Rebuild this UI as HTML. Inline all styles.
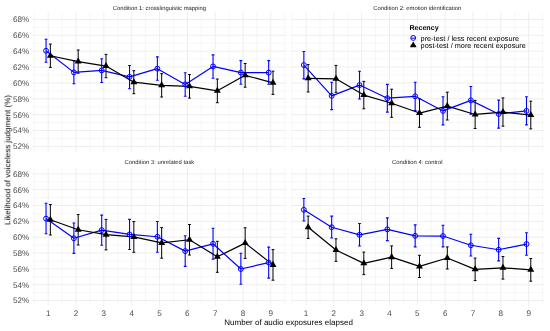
<!DOCTYPE html>
<html><head><meta charset="utf-8"><style>
html,body{margin:0;padding:0;background:#fff;width:550px;height:331px;overflow:hidden;}
svg{display:block;font-family:"Liberation Sans",sans-serif;}
text{will-change:transform;text-rendering:geometricPrecision;}
</style></head><body>
<svg width="550" height="331" viewBox="0 0 550 331">
<rect width="550" height="331" fill="#fff"/>
<g stroke="#EEEEEE" fill="none"><line x1="32.4" x2="286.4" y1="146.44" y2="146.44" stroke-width="1.0"/><line x1="32.4" x2="286.4" y1="138.5" y2="138.5" stroke-width="0.5"/><line x1="32.4" x2="286.4" y1="130.56" y2="130.56" stroke-width="1.0"/><line x1="32.4" x2="286.4" y1="122.62" y2="122.62" stroke-width="0.5"/><line x1="32.4" x2="286.4" y1="114.68" y2="114.68" stroke-width="1.0"/><line x1="32.4" x2="286.4" y1="106.74" y2="106.74" stroke-width="0.5"/><line x1="32.4" x2="286.4" y1="98.8" y2="98.8" stroke-width="1.0"/><line x1="32.4" x2="286.4" y1="90.86" y2="90.86" stroke-width="0.5"/><line x1="32.4" x2="286.4" y1="82.92" y2="82.92" stroke-width="1.0"/><line x1="32.4" x2="286.4" y1="74.98" y2="74.98" stroke-width="0.5"/><line x1="32.4" x2="286.4" y1="67.04" y2="67.04" stroke-width="1.0"/><line x1="32.4" x2="286.4" y1="59.1" y2="59.1" stroke-width="0.5"/><line x1="32.4" x2="286.4" y1="51.16" y2="51.16" stroke-width="1.0"/><line x1="32.4" x2="286.4" y1="43.22" y2="43.22" stroke-width="0.5"/><line x1="32.4" x2="286.4" y1="35.28" y2="35.28" stroke-width="1.0"/><line x1="32.4" x2="286.4" y1="27.34" y2="27.34" stroke-width="0.5"/><line x1="32.4" x2="286.4" y1="19.4" y2="19.4" stroke-width="1.0"/><line x1="34.29" x2="34.29" y1="12.1" y2="151.8" stroke-width="0.5"/><line x1="48.2" x2="48.2" y1="12.1" y2="151.8" stroke-width="1.0"/><line x1="62.12" x2="62.12" y1="12.1" y2="151.8" stroke-width="0.5"/><line x1="76.03" x2="76.03" y1="12.1" y2="151.8" stroke-width="1.0"/><line x1="89.94" x2="89.94" y1="12.1" y2="151.8" stroke-width="0.5"/><line x1="103.86" x2="103.86" y1="12.1" y2="151.8" stroke-width="1.0"/><line x1="117.77" x2="117.77" y1="12.1" y2="151.8" stroke-width="0.5"/><line x1="131.69" x2="131.69" y1="12.1" y2="151.8" stroke-width="1.0"/><line x1="145.61" x2="145.61" y1="12.1" y2="151.8" stroke-width="0.5"/><line x1="159.52" x2="159.52" y1="12.1" y2="151.8" stroke-width="1.0"/><line x1="173.44" x2="173.44" y1="12.1" y2="151.8" stroke-width="0.5"/><line x1="187.35" x2="187.35" y1="12.1" y2="151.8" stroke-width="1.0"/><line x1="201.26" x2="201.26" y1="12.1" y2="151.8" stroke-width="0.5"/><line x1="215.18" x2="215.18" y1="12.1" y2="151.8" stroke-width="1.0"/><line x1="229.09" x2="229.09" y1="12.1" y2="151.8" stroke-width="0.5"/><line x1="243.01" x2="243.01" y1="12.1" y2="151.8" stroke-width="1.0"/><line x1="256.93" x2="256.93" y1="12.1" y2="151.8" stroke-width="0.5"/><line x1="270.84" x2="270.84" y1="12.1" y2="151.8" stroke-width="1.0"/><line x1="284.75" x2="284.75" y1="12.1" y2="151.8" stroke-width="0.5"/></g>
<g stroke="#EEEEEE" fill="none"><line x1="290.2" x2="544.5" y1="146.44" y2="146.44" stroke-width="1.0"/><line x1="290.2" x2="544.5" y1="138.5" y2="138.5" stroke-width="0.5"/><line x1="290.2" x2="544.5" y1="130.56" y2="130.56" stroke-width="1.0"/><line x1="290.2" x2="544.5" y1="122.62" y2="122.62" stroke-width="0.5"/><line x1="290.2" x2="544.5" y1="114.68" y2="114.68" stroke-width="1.0"/><line x1="290.2" x2="544.5" y1="106.74" y2="106.74" stroke-width="0.5"/><line x1="290.2" x2="544.5" y1="98.8" y2="98.8" stroke-width="1.0"/><line x1="290.2" x2="544.5" y1="90.86" y2="90.86" stroke-width="0.5"/><line x1="290.2" x2="544.5" y1="82.92" y2="82.92" stroke-width="1.0"/><line x1="290.2" x2="544.5" y1="74.98" y2="74.98" stroke-width="0.5"/><line x1="290.2" x2="544.5" y1="67.04" y2="67.04" stroke-width="1.0"/><line x1="290.2" x2="544.5" y1="59.1" y2="59.1" stroke-width="0.5"/><line x1="290.2" x2="544.5" y1="51.16" y2="51.16" stroke-width="1.0"/><line x1="290.2" x2="544.5" y1="43.22" y2="43.22" stroke-width="0.5"/><line x1="290.2" x2="544.5" y1="35.28" y2="35.28" stroke-width="1.0"/><line x1="290.2" x2="544.5" y1="27.34" y2="27.34" stroke-width="0.5"/><line x1="290.2" x2="544.5" y1="19.4" y2="19.4" stroke-width="1.0"/><line x1="292.08" x2="292.08" y1="12.1" y2="151.8" stroke-width="0.5"/><line x1="306" x2="306" y1="12.1" y2="151.8" stroke-width="1.0"/><line x1="319.92" x2="319.92" y1="12.1" y2="151.8" stroke-width="0.5"/><line x1="333.83" x2="333.83" y1="12.1" y2="151.8" stroke-width="1.0"/><line x1="347.75" x2="347.75" y1="12.1" y2="151.8" stroke-width="0.5"/><line x1="361.66" x2="361.66" y1="12.1" y2="151.8" stroke-width="1.0"/><line x1="375.57" x2="375.57" y1="12.1" y2="151.8" stroke-width="0.5"/><line x1="389.49" x2="389.49" y1="12.1" y2="151.8" stroke-width="1.0"/><line x1="403.4" x2="403.4" y1="12.1" y2="151.8" stroke-width="0.5"/><line x1="417.32" x2="417.32" y1="12.1" y2="151.8" stroke-width="1.0"/><line x1="431.24" x2="431.24" y1="12.1" y2="151.8" stroke-width="0.5"/><line x1="445.15" x2="445.15" y1="12.1" y2="151.8" stroke-width="1.0"/><line x1="459.06" x2="459.06" y1="12.1" y2="151.8" stroke-width="0.5"/><line x1="472.98" x2="472.98" y1="12.1" y2="151.8" stroke-width="1.0"/><line x1="486.89" x2="486.89" y1="12.1" y2="151.8" stroke-width="0.5"/><line x1="500.81" x2="500.81" y1="12.1" y2="151.8" stroke-width="1.0"/><line x1="514.73" x2="514.73" y1="12.1" y2="151.8" stroke-width="0.5"/><line x1="528.64" x2="528.64" y1="12.1" y2="151.8" stroke-width="1.0"/><line x1="542.55" x2="542.55" y1="12.1" y2="151.8" stroke-width="0.5"/></g>
<g stroke="#EEEEEE" fill="none"><line x1="32.4" x2="286.4" y1="300.57" y2="300.57" stroke-width="1.0"/><line x1="32.4" x2="286.4" y1="292.65" y2="292.65" stroke-width="0.5"/><line x1="32.4" x2="286.4" y1="284.73" y2="284.73" stroke-width="1.0"/><line x1="32.4" x2="286.4" y1="276.81" y2="276.81" stroke-width="0.5"/><line x1="32.4" x2="286.4" y1="268.89" y2="268.89" stroke-width="1.0"/><line x1="32.4" x2="286.4" y1="260.97" y2="260.97" stroke-width="0.5"/><line x1="32.4" x2="286.4" y1="253.05" y2="253.05" stroke-width="1.0"/><line x1="32.4" x2="286.4" y1="245.13" y2="245.13" stroke-width="0.5"/><line x1="32.4" x2="286.4" y1="237.21" y2="237.21" stroke-width="1.0"/><line x1="32.4" x2="286.4" y1="229.29" y2="229.29" stroke-width="0.5"/><line x1="32.4" x2="286.4" y1="221.37" y2="221.37" stroke-width="1.0"/><line x1="32.4" x2="286.4" y1="213.45" y2="213.45" stroke-width="0.5"/><line x1="32.4" x2="286.4" y1="205.53" y2="205.53" stroke-width="1.0"/><line x1="32.4" x2="286.4" y1="197.61" y2="197.61" stroke-width="0.5"/><line x1="32.4" x2="286.4" y1="189.69" y2="189.69" stroke-width="1.0"/><line x1="32.4" x2="286.4" y1="181.77" y2="181.77" stroke-width="0.5"/><line x1="32.4" x2="286.4" y1="173.85" y2="173.85" stroke-width="1.0"/><line x1="34.29" x2="34.29" y1="167.8" y2="305.6" stroke-width="0.5"/><line x1="48.2" x2="48.2" y1="167.8" y2="305.6" stroke-width="1.0"/><line x1="62.12" x2="62.12" y1="167.8" y2="305.6" stroke-width="0.5"/><line x1="76.03" x2="76.03" y1="167.8" y2="305.6" stroke-width="1.0"/><line x1="89.94" x2="89.94" y1="167.8" y2="305.6" stroke-width="0.5"/><line x1="103.86" x2="103.86" y1="167.8" y2="305.6" stroke-width="1.0"/><line x1="117.77" x2="117.77" y1="167.8" y2="305.6" stroke-width="0.5"/><line x1="131.69" x2="131.69" y1="167.8" y2="305.6" stroke-width="1.0"/><line x1="145.61" x2="145.61" y1="167.8" y2="305.6" stroke-width="0.5"/><line x1="159.52" x2="159.52" y1="167.8" y2="305.6" stroke-width="1.0"/><line x1="173.44" x2="173.44" y1="167.8" y2="305.6" stroke-width="0.5"/><line x1="187.35" x2="187.35" y1="167.8" y2="305.6" stroke-width="1.0"/><line x1="201.26" x2="201.26" y1="167.8" y2="305.6" stroke-width="0.5"/><line x1="215.18" x2="215.18" y1="167.8" y2="305.6" stroke-width="1.0"/><line x1="229.09" x2="229.09" y1="167.8" y2="305.6" stroke-width="0.5"/><line x1="243.01" x2="243.01" y1="167.8" y2="305.6" stroke-width="1.0"/><line x1="256.93" x2="256.93" y1="167.8" y2="305.6" stroke-width="0.5"/><line x1="270.84" x2="270.84" y1="167.8" y2="305.6" stroke-width="1.0"/><line x1="284.75" x2="284.75" y1="167.8" y2="305.6" stroke-width="0.5"/></g>
<g stroke="#EEEEEE" fill="none"><line x1="290.2" x2="544.5" y1="300.57" y2="300.57" stroke-width="1.0"/><line x1="290.2" x2="544.5" y1="292.65" y2="292.65" stroke-width="0.5"/><line x1="290.2" x2="544.5" y1="284.73" y2="284.73" stroke-width="1.0"/><line x1="290.2" x2="544.5" y1="276.81" y2="276.81" stroke-width="0.5"/><line x1="290.2" x2="544.5" y1="268.89" y2="268.89" stroke-width="1.0"/><line x1="290.2" x2="544.5" y1="260.97" y2="260.97" stroke-width="0.5"/><line x1="290.2" x2="544.5" y1="253.05" y2="253.05" stroke-width="1.0"/><line x1="290.2" x2="544.5" y1="245.13" y2="245.13" stroke-width="0.5"/><line x1="290.2" x2="544.5" y1="237.21" y2="237.21" stroke-width="1.0"/><line x1="290.2" x2="544.5" y1="229.29" y2="229.29" stroke-width="0.5"/><line x1="290.2" x2="544.5" y1="221.37" y2="221.37" stroke-width="1.0"/><line x1="290.2" x2="544.5" y1="213.45" y2="213.45" stroke-width="0.5"/><line x1="290.2" x2="544.5" y1="205.53" y2="205.53" stroke-width="1.0"/><line x1="290.2" x2="544.5" y1="197.61" y2="197.61" stroke-width="0.5"/><line x1="290.2" x2="544.5" y1="189.69" y2="189.69" stroke-width="1.0"/><line x1="290.2" x2="544.5" y1="181.77" y2="181.77" stroke-width="0.5"/><line x1="290.2" x2="544.5" y1="173.85" y2="173.85" stroke-width="1.0"/><line x1="292.08" x2="292.08" y1="167.8" y2="305.6" stroke-width="0.5"/><line x1="306" x2="306" y1="167.8" y2="305.6" stroke-width="1.0"/><line x1="319.92" x2="319.92" y1="167.8" y2="305.6" stroke-width="0.5"/><line x1="333.83" x2="333.83" y1="167.8" y2="305.6" stroke-width="1.0"/><line x1="347.75" x2="347.75" y1="167.8" y2="305.6" stroke-width="0.5"/><line x1="361.66" x2="361.66" y1="167.8" y2="305.6" stroke-width="1.0"/><line x1="375.57" x2="375.57" y1="167.8" y2="305.6" stroke-width="0.5"/><line x1="389.49" x2="389.49" y1="167.8" y2="305.6" stroke-width="1.0"/><line x1="403.4" x2="403.4" y1="167.8" y2="305.6" stroke-width="0.5"/><line x1="417.32" x2="417.32" y1="167.8" y2="305.6" stroke-width="1.0"/><line x1="431.24" x2="431.24" y1="167.8" y2="305.6" stroke-width="0.5"/><line x1="445.15" x2="445.15" y1="167.8" y2="305.6" stroke-width="1.0"/><line x1="459.06" x2="459.06" y1="167.8" y2="305.6" stroke-width="0.5"/><line x1="472.98" x2="472.98" y1="167.8" y2="305.6" stroke-width="1.0"/><line x1="486.89" x2="486.89" y1="167.8" y2="305.6" stroke-width="0.5"/><line x1="500.81" x2="500.81" y1="167.8" y2="305.6" stroke-width="1.0"/><line x1="514.73" x2="514.73" y1="167.8" y2="305.6" stroke-width="0.5"/><line x1="528.64" x2="528.64" y1="167.8" y2="305.6" stroke-width="1.0"/><line x1="542.55" x2="542.55" y1="167.8" y2="305.6" stroke-width="0.5"/></g>
<path d="M46.05,39.2V62.2M44.65,39.2H47.45M44.65,62.2H47.45M73.88,60.6V83.8M72.48,60.6H75.28M72.48,83.8H75.28M101.71,58.8V82.5M100.31,58.8H103.11M100.31,82.5H103.11M129.54,65.5V88.8M128.14,65.5H130.94M128.14,88.8H130.94M157.37,56.9V80.2M155.97,56.9H158.77M155.97,80.2H158.77M185.2,72.8V96.2M183.8,72.8H186.6M183.8,96.2H186.6M213.03,54.9V78.2M211.63,54.9H214.43M211.63,78.2H214.43M240.86,60.6V84.3M239.46,60.6H242.26M239.46,84.3H242.26M268.69,60.6V84.3M267.29,60.6H270.09M267.29,84.3H270.09" fill="none" stroke="#0000FF" stroke-width="1.1"/>
<path d="M50.35,44.1V67.4M48.95,44.1H51.75M48.95,67.4H51.75M78.18,50V73.2M76.78,50H79.58M76.78,73.2H79.58M106.01,54.4V77.7M104.61,54.4H107.41M104.61,77.7H107.41M133.84,70.7V93.7M132.44,70.7H135.24M132.44,93.7H135.24M161.67,73.7V97M160.27,73.7H163.07M160.27,97H163.07M189.5,74.5V98.1M188.1,74.5H190.9M188.1,98.1H190.9M217.33,79V102.7M215.93,79H218.73M215.93,102.7H218.73M245.16,63.5V87.2M243.76,63.5H246.56M243.76,87.2H246.56M272.99,71.2V94.4M271.59,71.2H274.39M271.59,94.4H274.39" fill="none" stroke="#000000" stroke-width="1.0"/>
<path d="M303.85,51.5V78.9M302.45,51.5H305.25M302.45,78.9H305.25M331.68,82.2V109.6M330.28,82.2H333.08M330.28,109.6H333.08M359.51,71.3V99M358.11,71.3H360.91M358.11,99H360.91M387.34,84.4V112.1M385.94,84.4H388.74M385.94,112.1H388.74M415.17,82.3V110.6M413.77,82.3H416.57M413.77,110.6H416.57M443,96.8V124.9M441.6,96.8H444.4M441.6,124.9H444.4M470.83,86.5V114.3M469.43,86.5H472.23M469.43,114.3H472.23M498.66,100.1V128.1M497.26,100.1H500.06M497.26,128.1H500.06M526.49,96.8V124.9M525.09,96.8H527.89M525.09,124.9H527.89" fill="none" stroke="#0000FF" stroke-width="1.1"/>
<path d="M308.15,64.6V92M306.75,64.6H309.55M306.75,92H309.55M335.98,65.4V92.3M334.58,65.4H337.38M334.58,92.3H337.38M363.81,81.4V108.8M362.41,81.4H365.21M362.41,108.8H365.21M391.64,89.2V117.3M390.24,89.2H393.04M390.24,117.3H393.04M419.47,98.8V127.3M418.07,98.8H420.87M418.07,127.3H420.87M447.3,92.2V120M445.9,92.2H448.7M445.9,120H448.7M475.13,100.4V128.5M473.73,100.4H476.53M473.73,128.5H476.53M502.96,97.9V126.2M501.56,97.9H504.36M501.56,126.2H504.36M530.79,101.2V128.9M529.39,101.2H532.19M529.39,128.9H532.19" fill="none" stroke="#000000" stroke-width="1.0"/>
<path d="M46.05,203.2V233.8M44.65,203.2H47.45M44.65,233.8H47.45M73.88,223V253.4M72.48,223H75.28M72.48,253.4H75.28M101.71,215.1V245.3M100.31,215.1H103.11M100.31,245.3H103.11M129.54,219.4V249.5M128.14,219.4H130.94M128.14,249.5H130.94M157.37,221.5V252.2M155.97,221.5H158.77M155.97,252.2H158.77M185.2,235.7V266.4M183.8,235.7H186.6M183.8,266.4H186.6M213.03,228.3V259.3M211.63,228.3H214.43M211.63,259.3H214.43M240.86,253.3V284.3M239.46,253.3H242.26M239.46,284.3H242.26M268.69,247.1V278.1M267.29,247.1H270.09M267.29,278.1H270.09" fill="none" stroke="#0000FF" stroke-width="1.1"/>
<path d="M50.35,204.5V235M48.95,204.5H51.75M48.95,235H51.75M78.18,214.5V245M76.78,214.5H79.58M76.78,245H79.58M106.01,219.4V249.9M104.61,219.4H107.41M104.61,249.9H107.41M133.84,221.6V252.3M132.44,221.6H135.24M132.44,252.3H135.24M161.67,227.6V258.2M160.27,227.6H163.07M160.27,258.2H163.07M189.5,224.5V255M188.1,224.5H190.9M188.1,255H190.9M217.33,241.3V272.3M215.93,241.3H218.73M215.93,272.3H218.73M245.16,227.8V258.4M243.76,227.8H246.56M243.76,258.4H246.56M272.99,249.6V280.2M271.59,249.6H274.39M271.59,280.2H274.39" fill="none" stroke="#000000" stroke-width="1.0"/>
<path d="M303.85,198.5V221M302.45,198.5H305.25M302.45,221H305.25M331.68,216.1V238M330.28,216.1H333.08M330.28,238H333.08M359.51,223.5V246M358.11,223.5H360.91M358.11,246H360.91M387.34,217.9V240.6M385.94,217.9H388.74M385.94,240.6H388.74M415.17,224.9V246.9M413.77,224.9H416.57M413.77,246.9H416.57M443,225.2V246.9M441.6,225.2H444.4M441.6,246.9H444.4M470.83,234.3V256M469.43,234.3H472.23M469.43,256H472.23M498.66,238.4V260.9M497.26,238.4H500.06M497.26,260.9H500.06M526.49,232.8V255.2M525.09,232.8H527.89M525.09,255.2H527.89" fill="none" stroke="#0000FF" stroke-width="1.1"/>
<path d="M308.15,216.1V238.5M306.75,216.1H309.55M306.75,238.5H309.55M335.98,238.8V261.3M334.58,238.8H337.38M334.58,261.3H337.38M363.81,252.1V274.6M362.41,252.1H365.21M362.41,274.6H365.21M391.64,245.9V268.4M390.24,245.9H393.04M390.24,268.4H393.04M419.47,255.3V277.5M418.07,255.3H420.87M418.07,277.5H420.87M447.3,246.9V269M445.9,246.9H448.7M445.9,269H448.7M475.13,258.1V280.6M473.73,258.1H476.53M473.73,280.6H476.53M502.96,256.5V279.1M501.56,256.5H504.36M501.56,279.1H504.36M530.79,258.5V281.2M529.39,258.5H532.19M529.39,281.2H532.19" fill="none" stroke="#000000" stroke-width="1.0"/>
<polyline points="46.05,50.75 73.88,72.35 101.71,70.43 129.54,76.88 157.37,68.67 185.2,84.4 213.03,66.42 240.86,72.62 268.69,72.62" fill="none" stroke="#0000FF" stroke-width="1.2" stroke-linejoin="round"/>
<polyline points="50.35,55.75 78.18,61.6 106.01,66.05 133.84,82.2 161.67,85.35 189.5,86.3 217.33,90.85 245.16,75.35 272.99,82.8" fill="none" stroke="#000000" stroke-width="1.2" stroke-linejoin="round"/>
<polyline points="303.85,65.05 331.68,95.85 359.51,85.08 387.34,98.22 415.17,96.32 443,110.92 470.83,100.4 498.66,114 526.49,110.92" fill="none" stroke="#0000FF" stroke-width="1.2" stroke-linejoin="round"/>
<polyline points="308.15,78.3 335.98,78.85 363.81,95.1 391.64,103.25 419.47,113.05 447.3,106.1 475.13,114.45 502.96,112.05 530.79,115.05" fill="none" stroke="#000000" stroke-width="1.2" stroke-linejoin="round"/>
<polyline points="46.05,218.6 73.88,238.25 101.71,230.1 129.54,234.43 157.37,236.77 185.2,251.12 213.03,243.8 240.86,269 268.69,262.6" fill="none" stroke="#0000FF" stroke-width="1.2" stroke-linejoin="round"/>
<polyline points="50.35,219.75 78.18,229.75 106.01,234.65 133.84,236.95 161.67,242.9 189.5,239.75 217.33,256.8 245.16,243.1 272.99,264.9" fill="none" stroke="#000000" stroke-width="1.2" stroke-linejoin="round"/>
<polyline points="303.85,209.82 331.68,227.23 359.51,234.82 387.34,229.32 415.17,235.85 443,236.03 470.83,245.28 498.66,249.77 526.49,244.1" fill="none" stroke="#0000FF" stroke-width="1.2" stroke-linejoin="round"/>
<polyline points="308.15,227.3 335.98,250.05 363.81,263.35 391.64,257.15 419.47,266.4 447.3,257.95 475.13,269.35 502.96,267.8 530.79,269.85" fill="none" stroke="#000000" stroke-width="1.2" stroke-linejoin="round"/>
<g fill="none" stroke="#0000FF" stroke-width="1.0"><circle cx="46.05" cy="50.75" r="2.45"/><circle cx="73.88" cy="72.35" r="2.45"/><circle cx="101.71" cy="70.43" r="2.45"/><circle cx="129.54" cy="76.88" r="2.45"/><circle cx="157.37" cy="68.67" r="2.45"/><circle cx="185.2" cy="84.4" r="2.45"/><circle cx="213.03" cy="66.42" r="2.45"/><circle cx="240.86" cy="72.62" r="2.45"/><circle cx="268.69" cy="72.62" r="2.45"/></g>
<g fill="#000000"><path d="M50.35,51.71L53.85,57.77L46.85,57.77Z"/><path d="M78.18,57.56L81.68,63.62L74.68,63.62Z"/><path d="M106.01,62.01L109.51,68.07L102.51,68.07Z"/><path d="M133.84,78.16L137.34,84.22L130.34,84.22Z"/><path d="M161.67,81.31L165.17,87.37L158.17,87.37Z"/><path d="M189.5,82.26L193,88.32L186,88.32Z"/><path d="M217.33,86.81L220.83,92.87L213.83,92.87Z"/><path d="M245.16,71.31L248.66,77.37L241.66,77.37Z"/><path d="M272.99,78.76L276.49,84.82L269.49,84.82Z"/></g>
<g fill="none" stroke="#0000FF" stroke-width="1.0"><circle cx="303.85" cy="65.05" r="2.45"/><circle cx="331.68" cy="95.85" r="2.45"/><circle cx="359.51" cy="85.08" r="2.45"/><circle cx="387.34" cy="98.22" r="2.45"/><circle cx="415.17" cy="96.32" r="2.45"/><circle cx="443" cy="110.92" r="2.45"/><circle cx="470.83" cy="100.4" r="2.45"/><circle cx="498.66" cy="114" r="2.45"/><circle cx="526.49" cy="110.92" r="2.45"/></g>
<g fill="#000000"><path d="M308.15,74.26L311.65,80.32L304.65,80.32Z"/><path d="M335.98,74.81L339.48,80.87L332.48,80.87Z"/><path d="M363.81,91.06L367.31,97.12L360.31,97.12Z"/><path d="M391.64,99.21L395.14,105.27L388.14,105.27Z"/><path d="M419.47,109.01L422.97,115.07L415.97,115.07Z"/><path d="M447.3,102.06L450.8,108.12L443.8,108.12Z"/><path d="M475.13,110.41L478.63,116.47L471.63,116.47Z"/><path d="M502.96,108.01L506.46,114.07L499.46,114.07Z"/><path d="M530.79,111.01L534.29,117.07L527.29,117.07Z"/></g>
<g fill="none" stroke="#0000FF" stroke-width="1.0"><circle cx="46.05" cy="218.6" r="2.45"/><circle cx="73.88" cy="238.25" r="2.45"/><circle cx="101.71" cy="230.1" r="2.45"/><circle cx="129.54" cy="234.43" r="2.45"/><circle cx="157.37" cy="236.77" r="2.45"/><circle cx="185.2" cy="251.12" r="2.45"/><circle cx="213.03" cy="243.8" r="2.45"/><circle cx="240.86" cy="269" r="2.45"/><circle cx="268.69" cy="262.6" r="2.45"/></g>
<g fill="#000000"><path d="M50.35,215.71L53.85,221.77L46.85,221.77Z"/><path d="M78.18,225.71L81.68,231.77L74.68,231.77Z"/><path d="M106.01,230.61L109.51,236.67L102.51,236.67Z"/><path d="M133.84,232.91L137.34,238.97L130.34,238.97Z"/><path d="M161.67,238.86L165.17,244.92L158.17,244.92Z"/><path d="M189.5,235.71L193,241.77L186,241.77Z"/><path d="M217.33,252.76L220.83,258.82L213.83,258.82Z"/><path d="M245.16,239.06L248.66,245.12L241.66,245.12Z"/><path d="M272.99,260.86L276.49,266.92L269.49,266.92Z"/></g>
<g fill="none" stroke="#0000FF" stroke-width="1.0"><circle cx="303.85" cy="209.82" r="2.45"/><circle cx="331.68" cy="227.23" r="2.45"/><circle cx="359.51" cy="234.82" r="2.45"/><circle cx="387.34" cy="229.32" r="2.45"/><circle cx="415.17" cy="235.85" r="2.45"/><circle cx="443" cy="236.03" r="2.45"/><circle cx="470.83" cy="245.28" r="2.45"/><circle cx="498.66" cy="249.77" r="2.45"/><circle cx="526.49" cy="244.1" r="2.45"/></g>
<g fill="#000000"><path d="M308.15,223.26L311.65,229.32L304.65,229.32Z"/><path d="M335.98,246.01L339.48,252.07L332.48,252.07Z"/><path d="M363.81,259.31L367.31,265.37L360.31,265.37Z"/><path d="M391.64,253.11L395.14,259.17L388.14,259.17Z"/><path d="M419.47,262.36L422.97,268.42L415.97,268.42Z"/><path d="M447.3,253.91L450.8,259.97L443.8,259.97Z"/><path d="M475.13,265.31L478.63,271.37L471.63,271.37Z"/><path d="M502.96,263.76L506.46,269.82L499.46,269.82Z"/><path d="M530.79,265.81L534.29,271.87L527.29,271.87Z"/></g>
<text x="29.3" y="149.34" text-anchor="end" font-size="8.1" fill="#4D4D4D" font-family="Liberation Sans, sans-serif">52%</text>
<text x="29.3" y="133.46" text-anchor="end" font-size="8.1" fill="#4D4D4D" font-family="Liberation Sans, sans-serif">54%</text>
<text x="29.3" y="117.58" text-anchor="end" font-size="8.1" fill="#4D4D4D" font-family="Liberation Sans, sans-serif">56%</text>
<text x="29.3" y="101.7" text-anchor="end" font-size="8.1" fill="#4D4D4D" font-family="Liberation Sans, sans-serif">58%</text>
<text x="29.3" y="85.82" text-anchor="end" font-size="8.1" fill="#4D4D4D" font-family="Liberation Sans, sans-serif">60%</text>
<text x="29.3" y="69.94" text-anchor="end" font-size="8.1" fill="#4D4D4D" font-family="Liberation Sans, sans-serif">62%</text>
<text x="29.3" y="54.06" text-anchor="end" font-size="8.1" fill="#4D4D4D" font-family="Liberation Sans, sans-serif">64%</text>
<text x="29.3" y="38.18" text-anchor="end" font-size="8.1" fill="#4D4D4D" font-family="Liberation Sans, sans-serif">66%</text>
<text x="29.3" y="22.3" text-anchor="end" font-size="8.1" fill="#4D4D4D" font-family="Liberation Sans, sans-serif">68%</text>
<text x="29.3" y="303.47" text-anchor="end" font-size="8.1" fill="#4D4D4D" font-family="Liberation Sans, sans-serif">52%</text>
<text x="29.3" y="287.63" text-anchor="end" font-size="8.1" fill="#4D4D4D" font-family="Liberation Sans, sans-serif">54%</text>
<text x="29.3" y="271.79" text-anchor="end" font-size="8.1" fill="#4D4D4D" font-family="Liberation Sans, sans-serif">56%</text>
<text x="29.3" y="255.95" text-anchor="end" font-size="8.1" fill="#4D4D4D" font-family="Liberation Sans, sans-serif">58%</text>
<text x="29.3" y="240.11" text-anchor="end" font-size="8.1" fill="#4D4D4D" font-family="Liberation Sans, sans-serif">60%</text>
<text x="29.3" y="224.27" text-anchor="end" font-size="8.1" fill="#4D4D4D" font-family="Liberation Sans, sans-serif">62%</text>
<text x="29.3" y="208.43" text-anchor="end" font-size="8.1" fill="#4D4D4D" font-family="Liberation Sans, sans-serif">64%</text>
<text x="29.3" y="192.59" text-anchor="end" font-size="8.1" fill="#4D4D4D" font-family="Liberation Sans, sans-serif">66%</text>
<text x="29.3" y="176.75" text-anchor="end" font-size="8.1" fill="#4D4D4D" font-family="Liberation Sans, sans-serif">68%</text>
<text x="48.2" y="316.1" text-anchor="middle" font-size="8.1" fill="#4D4D4D" font-family="Liberation Sans, sans-serif">1</text>
<text x="76.03" y="316.1" text-anchor="middle" font-size="8.1" fill="#4D4D4D" font-family="Liberation Sans, sans-serif">2</text>
<text x="103.86" y="316.1" text-anchor="middle" font-size="8.1" fill="#4D4D4D" font-family="Liberation Sans, sans-serif">3</text>
<text x="131.69" y="316.1" text-anchor="middle" font-size="8.1" fill="#4D4D4D" font-family="Liberation Sans, sans-serif">4</text>
<text x="159.52" y="316.1" text-anchor="middle" font-size="8.1" fill="#4D4D4D" font-family="Liberation Sans, sans-serif">5</text>
<text x="187.35" y="316.1" text-anchor="middle" font-size="8.1" fill="#4D4D4D" font-family="Liberation Sans, sans-serif">6</text>
<text x="215.18" y="316.1" text-anchor="middle" font-size="8.1" fill="#4D4D4D" font-family="Liberation Sans, sans-serif">7</text>
<text x="243.01" y="316.1" text-anchor="middle" font-size="8.1" fill="#4D4D4D" font-family="Liberation Sans, sans-serif">8</text>
<text x="270.84" y="316.1" text-anchor="middle" font-size="8.1" fill="#4D4D4D" font-family="Liberation Sans, sans-serif">9</text>
<text x="306" y="316.1" text-anchor="middle" font-size="8.1" fill="#4D4D4D" font-family="Liberation Sans, sans-serif">1</text>
<text x="333.83" y="316.1" text-anchor="middle" font-size="8.1" fill="#4D4D4D" font-family="Liberation Sans, sans-serif">2</text>
<text x="361.66" y="316.1" text-anchor="middle" font-size="8.1" fill="#4D4D4D" font-family="Liberation Sans, sans-serif">3</text>
<text x="389.49" y="316.1" text-anchor="middle" font-size="8.1" fill="#4D4D4D" font-family="Liberation Sans, sans-serif">4</text>
<text x="417.32" y="316.1" text-anchor="middle" font-size="8.1" fill="#4D4D4D" font-family="Liberation Sans, sans-serif">5</text>
<text x="445.15" y="316.1" text-anchor="middle" font-size="8.1" fill="#4D4D4D" font-family="Liberation Sans, sans-serif">6</text>
<text x="472.98" y="316.1" text-anchor="middle" font-size="8.1" fill="#4D4D4D" font-family="Liberation Sans, sans-serif">7</text>
<text x="500.81" y="316.1" text-anchor="middle" font-size="8.1" fill="#4D4D4D" font-family="Liberation Sans, sans-serif">8</text>
<text x="528.64" y="316.1" text-anchor="middle" font-size="8.1" fill="#4D4D4D" font-family="Liberation Sans, sans-serif">9</text>
<text x="159.4" y="9.9" text-anchor="middle" font-size="5.86" fill="#1A1A1A" font-family="Liberation Sans, sans-serif">Condition 1: crosslinguistic mapping</text>
<text x="417.35" y="9.9" text-anchor="middle" font-size="5.86" fill="#1A1A1A" font-family="Liberation Sans, sans-serif">Condition 2: emotion identification</text>
<text x="159.4" y="164.3" text-anchor="middle" font-size="5.86" fill="#1A1A1A" font-family="Liberation Sans, sans-serif">Condition 3: unrelated task</text>
<text x="417.35" y="164.3" text-anchor="middle" font-size="5.86" fill="#1A1A1A" font-family="Liberation Sans, sans-serif">Condition 4: control</text>
<text x="288.6" y="325.4" text-anchor="middle" font-size="8" fill="#000" font-family="Liberation Sans, sans-serif">Number of audio exposures elapsed</text>
<text transform="translate(10.3,159.95) rotate(-90)" x="0" y="0" text-anchor="middle" font-size="8" fill="#000" font-family="Liberation Sans, sans-serif">Likelihood of voiceless judgment (%)</text>
<text x="409.4" y="29.6" font-size="7.1" font-weight="bold" fill="#000" font-family="Liberation Sans, sans-serif">Recency</text>
<text x="420.6" y="41.1" font-size="7.32" fill="#000" font-family="Liberation Sans, sans-serif">pre-test / less recent exposure</text>
<text x="420.6" y="48.0" font-size="7.32" fill="#000" font-family="Liberation Sans, sans-serif">post-test / more recent exposure</text>
<line x1="411.0" x2="415.4" y1="38.1" y2="38.1" stroke="#0000FF" stroke-width="1.0"/>
<circle cx="413.2" cy="37.9" r="2.45" fill="none" stroke="#0000FF" stroke-width="1"/>
<line x1="410.7" x2="415.7" y1="45.4" y2="45.4" stroke="#000000" stroke-width="1.0"/>
<path d="M413.2,41.59L416.5,47.31L409.9,47.31Z" fill="#000000"/>
</svg>
</body></html>
